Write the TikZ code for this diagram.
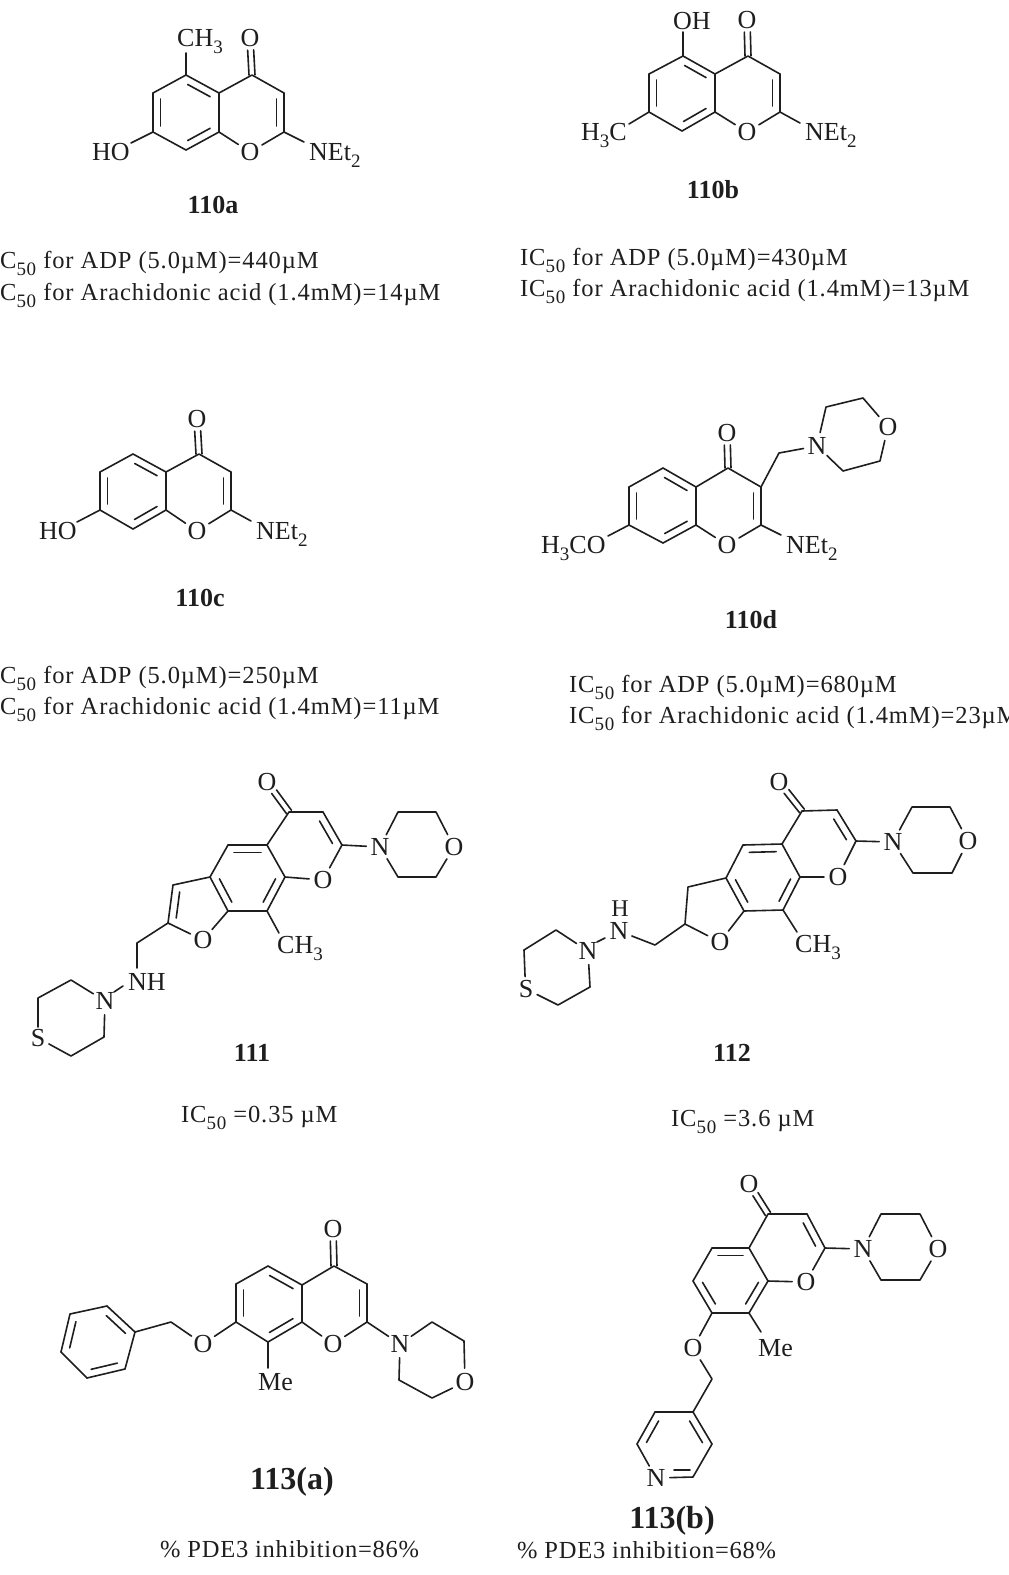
\documentclass[tikz,border=0pt]{standalone}
\usepackage{fontspec}
\setmainfont{Liberation Serif}
\newfontfamily\spaced[LetterSpace=3.7]{Liberation Serif}
\newfontfamily\spacedb[LetterSpace=3.1]{Liberation Serif}
\usetikzlibrary{calc}
\definecolor{ink}{HTML}{1E1E1E}
\newcommand{\ssb}[1]{\raisebox{-7.5pt}{\fontsize{19}{19}\selectfont #1}}
\newcommand{\dbl}[2]{\draw[bond](#1)--(#2);\draw[bond,shorten <=6pt,shorten >=6pt]($(#1)!7.5pt!90:(#2)$)--($(#2)!7.5pt!-90:(#1)$);}
\newcommand{\dbr}[2]{\draw[bond](#1)--(#2);\draw[bond,shorten <=6pt,shorten >=6pt]($(#1)!7.5pt!-90:(#2)$)--($(#2)!7.5pt!90:(#1)$);}
\newcommand{\cdo}[2]{\draw[bond,shorten >=12pt]($(#1)!3pt!90:(#2)$)--($(#2)!3pt!-90:(#1)$);\draw[bond,shorten >=12pt]($(#1)!3pt!-90:(#2)$)--($(#2)!3pt!90:(#1)$);}
% common chromone skeleton: coordinates p4a,p4,p3,p2,p8a,p5,p6,p7,p8 and atom nodes pO1,pOx
\newcommand{\chrom}[1]{%
\draw[bond](#14a)--(#14)--(#13);\dbr{#13}{#12}\draw[bond](#12)--(#1O1)--(#18a)--(#14a);
\dbr{#15}{#14a}\draw[bond](#15)--(#16);\dbl{#16}{#17}\draw[bond](#17)--(#18);\dbl{#18}{#18a}\cdo{#14}{#1Ox}}
\tikzset{
 bond/.style={draw=ink,line width=1.6pt,line join=round,line cap=round},
 atom/.style={circle,inner sep=0.6pt,text=ink,font=\fontsize{26}{26}\selectfont},
 chem/.style={inner sep=0pt,anchor=base west,text=ink,font=\fontsize{26}{26}\selectfont},
 info/.style={inner sep=0pt,anchor=base west,text=ink,font=\spaced\fontsize{24.5}{24.5}\selectfont},
 infob/.style={inner sep=0pt,anchor=base west,text=ink,font=\spacedb\fontsize{24.5}{24.5}\selectfont},
 cpd/.style={inner sep=0pt,text=ink,font=\fontsize{26}{26}\selectfont\bfseries},
 cpdb/.style={inner sep=0pt,text=ink,font=\fontsize{32}{32}\selectfont\bfseries}
}
\begin{document}
\begin{tikzpicture}[x=1pt,y=-1pt]
\useasboundingbox (0,0) rectangle (1009,1575);
\fill[white] (0,0) rectangle (1009,1575);
\foreach \n/\x/\y in {
 % 110a
 a4a/219/93,a4/252/75,a3/284/93,a2/284/132,a8a/219/132,a5/186/75,a6/153/93,a7/153/132,a8/186/150,
 aMe/186/53,aHb/131/143,aNb/304/142,
 % 110b
 b4a/715/74,b4/748/56,b3/780/74,b2/780/112,b8a/715/112,b5/683/56,b6/649/74,b7/649/112,b8/682/131,
 bOb/683/32,bMb/629/124,bNb/800/123,
 % 110c
 c4a/166/472,c4/199/454,c3/231/472,c2/231/510,c8a/166/510,c5/133/454,c6/100/472,c7/100/510,c8/133/529,
 cHb/77/522,cNb/251/521,
 % 110d
 d4a/696/487,d4/728/468,d3/761/487,d2/761/525,d8a/696/525,d5/663/468,d6/629/487,d7/629/525,d8/663/543,
 dOb/608/536,dNb/781/535,dCh/779/453,dm1/826/407,dm2/863/398,dm3/880/461,dm4/843/471,
 % 111
 e4a/267/845,e4/289/812,e3/323/812,e2/342/845,e8a/285/877,e5/228/845,e6/210/877,e7/228/911,e8/267/911,
 eF3/173/885,eF2/168/923,eCh/137/943,eNb/137/968,eDa/123/986,eDb/114/992,
 et1/71/980,et2/38/998,et3/38/1027,et4/71/1056,et5/104/1037,eMb/279/933,
 em1/398/812,em2/436/812,em3/436/877,em4/398/877,
 % 112
 f4a/782/844,f4/802/811,f3/837/810,f2/856/841,f8a/800/877,f5/743/845,f6/726/878,f7/744/911,f8/783/910,
 fF3/688/887,fF2/685/924,fCh/655/945,fDa/605/938,fDb/597/942,
 ft1/556/930,ft2/524/950,ft3/525/975,ft4/558/1005,ft5/590/987,fMb/797/932,
 fm1/912/807,fm2/950/807,fm3/952/873,fm4/913/873,
 % 113a
 g4a/302/1285,g4/334/1266,g3/367/1284,g2/367/1322,g8a/302/1322,g5/268/1266,g6/236/1284,g7/236/1322,g8/268/1342,
 gMb/268/1368,gCh/171/1322,gp1/135/1332,gp2/107/1306,gp3/70/1314,gp4/61/1352,gp5/87/1378,gp6/125/1369,
 gm1/432/1322,gm2/464/1341,gm3/432/1398,gm4/399/1380,
 % 113b
 h4a/749/1248,h4/768/1214,h3/807/1214,h2/825/1248,h8a/768/1281,h5/712/1248,h6/693/1281,h7/712/1313,h8/749/1313,
 hMb/761/1332,hCh/712/1379,hy4/693/1412,hy3/655/1412,hy2/637/1444,hy5/712/1444,hy6/693/1477,hyi/690/1470,hyj/674/1470,
 hm1/881/1214,hm2/920/1214,hm3/920/1280,hm4/881/1280
}{\coordinate (\n) at (\x,\y);}
% ---------- atoms
\foreach \n/\t/\x/\y in {
 aO1/O/250/152,aOx/O/250/38,
 bO1/O/747/132,bOx/O/747/20,
 cO1/O/197/531,cOx/O/197/419,
 dO1/O/727/545,dOx/O/727/433,dN/N/817/446,dO2/O/888/427,
 eO1/O/323/880,eOx/O/267/782,eOf/O/203/940,eN/N/380/847,eO2/O/454/847,eNt/N/105/1001,eS/S/38/1038,
 fO1/O/838/877,fOx/O/779/782,fOf/O/720/942,fN/N/893/842,fO2/O/968/841,fNt/N/588/951,fNh/N/619/931,fS/S/526/989,
 gO1/O/333/1344,gOx/O/333/1229,gO3/O/203/1344,gN/N/400/1344,gO2/O/465/1382,
 hO1/O/806/1282,hOx/O/749/1184,hO3/O/693/1348,hN/N/863/1249,hO2/O/938/1249,hNy/N/656/1478
}{\node[atom] (\n) at (\x,\y) {\t};}
% ---------- skeletons
\chrom{a}\chrom{b}\chrom{c}\chrom{d}\chrom{e}\chrom{f}\chrom{g}\chrom{h}
% 110a
\draw[bond](a5)--(aMe);\draw[bond](a7)--(aHb);\draw[bond](a2)--(aNb);
\node[chem] (aCH) at (177,46) {CH\ssb{3}};
\node[chem] (aHO) at (92,160) {HO};
\node[chem] (aNE) at (309,160) {NEt\ssb{2}};
\node[cpd] (aL) at (213,205) {110a};
\node[info] (aI1) at (0,268) {C\ssb{50} for ADP (5.0µM)=440µM};
\node[info] (aI2) at (0,300) {C\ssb{50} for Arachidonic acid (1.4mM)=14µM};
% 110b
\draw[bond](b5)--(bOb);\draw[bond](b7)--(bMb);\draw[bond](b2)--(bNb);
\node[chem] (bOH) at (673,29) {OH};
\node[chem] (bH3) at (581,140) {H\ssb{3}C};
\node[chem] (bNE) at (805,140) {NEt\ssb{2}};
\node[cpd] (bL) at (713,190) {110b};
\node[info] (bI1) at (520,265) {IC\ssb{50} for ADP (5.0µM)=430µM};
\node[info] (bI2) at (520,296) {IC\ssb{50} for Arachidonic acid (1.4mM)=13µM};
% 110c
\draw[bond](c7)--(cHb);\draw[bond](c2)--(cNb);
\node[chem] (cHO) at (39,539) {HO};
\node[chem] (cNE) at (256,539) {NEt\ssb{2}};
\node[cpd] (cL) at (200,598) {110c};
\node[info] (cI1) at (0,683) {C\ssb{50} for ADP (5.0µM)=250µM};
\node[info] (cI2) at (0,714) {C\ssb{50} for Arachidonic acid (1.4mM)=11µM};
% 110d
\draw[bond](d7)--(dOb);\draw[bond](d2)--(dNb);
\draw[bond](d3)--(dCh)--(dN)--(dm1)--(dm2)--(dO2)--(dm3)--(dm4)--(dN);
\node[chem] (dH3) at (541,553) {H\ssb{3}CO};
\node[chem] (dNE) at (786,553) {NEt\ssb{2}};
\node[cpd] (dL) at (751,620) {110d};
\node[info] (dI1) at (569,692) {IC\ssb{50} for ADP (5.0µM)=680µM};
\node[info] (dI2) at (569,723) {IC\ssb{50} for Arachidonic acid (1.4mM)=23µM};
% 111
\draw[bond](e6)--(eF3);\dbl{eF3}{eF2}\draw[bond](eF2)--(eOf)--(e7);
\draw[bond](eF2)--(eCh)--(eNb);\draw[bond](eDa)--(eDb);
\draw[bond](eNt)--(et1)--(et2)--(et3)--(eS)--(et4)--(et5)--(eNt);
\draw[bond](e8)--(eMb);
\draw[bond](e2)--(eN)--(em1)--(em2)--(eO2)--(em3)--(em4)--(eN);
\node[chem] (eNH) at (128,990) {NH};
\node[chem] (eCH) at (277,953) {CH\ssb{3}};
\node[cpd] (eL) at (252,1053) {111};
\node[info] (eI) at (181,1122) {IC\ssb{50} =0.35 µM};
% 112
\draw[bond](f6)--(fF3)--(fF2)--(fOf)--(f7);
\draw[bond](fF2)--(fCh)--(fNh);\draw[bond](fDa)--(fDb);
\draw[bond](fNt)--(ft1)--(ft2)--(ft3)--(fS)--(ft4)--(ft5)--(fNt);
\draw[bond](f8)--(fMb);
\draw[bond](f2)--(fN)--(fm1)--(fm2)--(fO2)--(fm3)--(fm4)--(fN);
\node[inner sep=0pt,text=ink,font=\fontsize{24}{24}\selectfont] (fH) at (620,909) {H};
\node[chem] (fCH) at (795,952) {CH\ssb{3}};
\node[cpd] (fL) at (732,1053) {112};
\node[info] (fI) at (671,1126) {IC\ssb{50} =3.6 µM};
% 113a
\draw[bond](g7)--(gO3)--(gCh)--(gp1);
\draw[bond](g8)--(gMb);
\dbl{gp1}{gp2}\draw[bond](gp2)--(gp3);\dbl{gp3}{gp4}\draw[bond](gp4)--(gp5);\dbl{gp5}{gp6}\draw[bond](gp6)--(gp1);
\draw[bond](g2)--(gN)--(gm1)--(gm2)--(gO2)--(gm3)--(gm4)--(gN);
\node[chem] (gMe) at (258,1390) {Me};
\node[cpdb] (gL) at (292,1482) {113(a)};
\node[infob] (gI) at (160,1557) {\% PDE3 inhibition=86\%};
% 113b
\draw[bond](h7)--(hO3)--(hCh)--(hy4);
\draw[bond](h8)--(hMb);
\dbr{hy4}{hy5}\draw[bond](hy5)--(hy6)--(hNy)--(hy2);\dbl{hy3}{hy2}\draw[bond](hy3)--(hy4);
\draw[bond](hyi)--(hyj);
\draw[bond](h2)--(hN)--(hm1)--(hm2)--(hO2)--(hm3)--(hm4)--(hN);
\node[chem] (hMe) at (758,1356) {Me};
\node[cpdb] (hL) at (672,1521) {113(b)};
\node[infob] (hI) at (517,1558) {\% PDE3 inhibition=68\%};
\end{tikzpicture}
\end{document}
